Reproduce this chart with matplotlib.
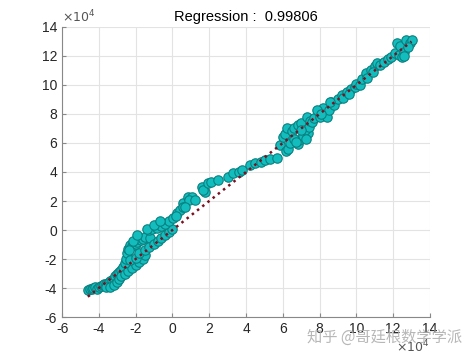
import matplotlib
matplotlib.use("Agg")
import matplotlib.pyplot as plt
from matplotlib.ticker import FuncFormatter

plt.rcParams['font.family'] = ['Liberation Sans', 'DejaVu Sans']

# target vs. predicted values (x 1e4)
actual = [
    -4.6, -4.5, -4.4, -4.3, -4.2, -4.1, -4.0, -3.9, -3.8, -3.7, -3.6, -3.5, -3.4, -3.3, -3.2,
    -3.1, -3.0, -2.9, -2.8, -2.7,
    -3.6, -3.4, -3.2, -3.0, -2.9, -2.8, -2.6, -2.4, -2.2, -2.0, -1.8, -1.6, -1.5,
    -2.6, -2.5, -2.45, -2.4, -2.3, -2.2, -2.1, -2.0, -1.9, -1.7, -1.6, -1.5, -1.2,
    -2.3, -2.0, -1.8, -1.5, -1.3, -1.0, -0.8, -0.6, -0.4, -0.2, 0.0,
    -1.3, -1.1, -0.85, -0.6, -0.4, -0.2, 0.05, 0.25, 0.4, 0.55, 0.6, 0.85, 1.05, 0.9,
    1.6, 1.75, 1.65, 1.95, 2.1, 2.5, 3.0, 3.3, 3.6, 3.8, 4.2, 4.5, 4.8, 5.05, 5.3, 5.7,
    5.85, 6.0, 6.1, 6.2, 6.3, 6.25, 6.5, 6.6, 6.8, 7.0, 6.8, 6.9, 7.1, 7.35, 7.2, 7.4,
    7.3, 7.5, 7.6, 7.7, 6.4, 6.6,
    7.9, 8.0, 8.2, 8.4, 8.5, 8.6, 8.8, 9.0, 9.2, 9.3, 9.5, 9.7, 9.9, 10.0, 10.2, 10.3,
    10.5, 10.6, 10.8, 11.0, 11.1, 11.3, 11.5, 11.7, 11.9, 12.1, 12.3, 12.2, 12.4, 12.6,
    12.7, 12.9, 13.0, 12.8, 12.5, 12.6, 7.86, 8.57, 8.1, 9.6, 10.9,
    -2.35, -2.15, -1.95, -1.4, -1.0, -0.7, 0.2, 0.7, 1.2, 6.7, 7.0, 7.25,
]
predicted = [
    -4.15, -4.05, -4.1, -4.0, -3.95, -4.05, -3.9, -3.85, -3.8, -3.75, -3.7, -3.65, -3.55, -3.45, -3.35,
    -3.2, -3.05, -2.9, -2.75, -2.55,
    -3.95, -3.95, -3.8, -3.6, -3.4, -3.2, -3.0, -2.8, -2.6, -2.4, -2.2, -2.0, -1.7,
    -2.3, -2.0, -1.6, -1.3, -1.0, -1.1, -0.9, -0.95, -0.8, -0.7, -0.6, -0.45, -0.55,
    -2.1, -1.9, -1.6, -1.4, -1.15, -0.95, -0.75, -0.55, -0.35, -0.15, 0.05,
    0.0, 0.05, 0.15, 0.25, 0.4, 0.6, 0.85, 1.2, 1.4, 1.85, 1.6, 2.3, 2.3, 2.05,
    2.95, 2.6, 2.75, 3.25, 3.3, 3.45, 3.65, 3.9, 4.0, 4.15, 4.5, 4.6, 4.7, 4.8, 4.9, 4.95,
    5.85, 6.4, 6.6, 5.45, 5.6, 7.0, 6.8, 7.0, 7.25, 7.4, 5.9, 6.2, 6.5, 6.7, 6.9, 7.1,
    7.8, 7.5, 7.45, 7.7, 6.0, 6.3,
    8.2, 7.8, 8.4, 7.8, 8.3, 8.8, 8.6, 9.0, 9.3, 9.1, 9.5, 9.7, 9.85, 10.1, 10.0, 10.4,
    10.8, 10.5, 11.0, 11.3, 11.5, 11.4, 11.6, 11.8, 11.9, 12.2, 12.1, 12.9, 12.7, 12.3,
    13.1, 12.9, 13.1, 12.6, 11.9, 12.0, 8.3, 8.8, 8.0, 9.4, 10.9,
    -1.35, -0.75, -0.35, 0.1, 0.35, 0.65, 1.0, 1.6, 2.1, 6.1, 6.9, 6.3,
]
fit_x = [-4.6, 13.0]
fit_y = [-4.6, 13.0]
title_text = "Regression :  0.99806"
ticks = list(range(-6, 15, 2))

fig = plt.figure(figsize=(4.74, 3.55), dpi=100)
ax = fig.add_axes([0.131, 0.107, 0.776, 0.817])

ax.scatter([v * 1e4 for v in actual], [v * 1e4 for v in predicted], s=46,
           facecolor='#14bdbd', edgecolor='#0a8080', linewidths=0.8, zorder=2)
ax.plot([v * 1e4 for v in fit_x], [v * 1e4 for v in fit_y], ':', color='#7a1020',
        linewidth=1.8, zorder=3)

ax.set_xlim(-6e4, 14e4)
ax.set_ylim(-6e4, 14e4)
ax.set_xticks([t * 1e4 for t in ticks])
ax.set_yticks([t * 1e4 for t in ticks])
fmt = FuncFormatter(lambda v, pos: "%g" % (v / 1e4))
ax.xaxis.set_major_formatter(fmt)
ax.yaxis.set_major_formatter(fmt)

# MATLAB style exponent labels
ax.text(0.0, 1.005, r"$\times 10^{4}$", transform=ax.transAxes, ha='left', va='bottom',
        fontsize=9, color='#555555')
ax.text(1.0, -0.075, r"$\times 10^{4}$", transform=ax.transAxes, ha='right', va='top',
        fontsize=9, color='#555555')

ax.grid(True, color='#e3e3e3', linewidth=0.8, zorder=0)
ax.set_axisbelow(True)
ax.spines['top'].set_visible(False)
ax.spines['right'].set_visible(False)
ax.spines['left'].set_color('#888888')
ax.spines['bottom'].set_color('#888888')
ax.tick_params(direction='in', length=3, color='#888888', labelsize=10,
               labelcolor='#262626')
ax.set_title(title_text, fontsize=10.5, pad=4)

# watermark, sits over the x tick labels like in the original
fig.text(0.975, 0.025, "知乎 @哥廷根数学学派", ha='right', va='bottom', fontsize=11,
         color='#b0b0b0', alpha=0.9, family=['Noto Sans CJK SC', 'DejaVu Sans'])

fig.savefig('out.png', dpi=100)
